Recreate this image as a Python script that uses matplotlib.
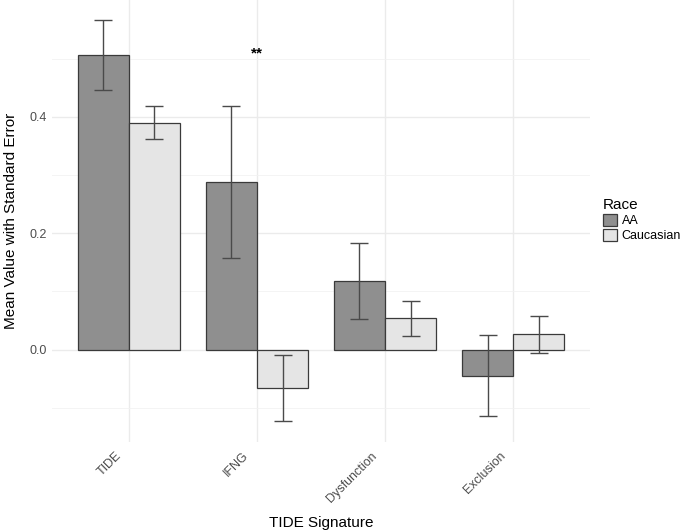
import matplotlib
matplotlib.use("Agg")
import matplotlib.pyplot as plt
import matplotlib.transforms as mtransforms
import numpy as np
from matplotlib.ticker import FixedLocator

categories = ["TIDE", "IFNG", "Dysfunction", "Exclusion"]
races = ["AA", "Caucasian"]
aa_mean = [0.506, 0.288, 0.118, -0.045]
aa_se = [0.060, 0.131, 0.065, 0.070]
cau_mean = [0.390, -0.066, 0.054, 0.026]
cau_se = [0.028, 0.057, 0.030, 0.032]
annot_text = "**"
annot_cat = 1
annot_y = 0.509

plt.rcParams['font.family'] = ['Liberation Sans', 'DejaVu Sans']

fig = plt.figure(figsize=(6.85, 5.32), dpi=100)
ax = fig.add_axes([52/685, 1-442/532, (590-52)/685, 442/532])

x = np.arange(len(categories))
w = 0.4
fills = ["#8f8f8f", "#e5e5e5"]
edge = "#3a3a3a"
for i, (m, s) in enumerate([(aa_mean, aa_se), (cau_mean, cau_se)]):
    pos = x + (i - 0.5) * w
    ax.bar(pos, m, width=w, color=fills[i], edgecolor=edge, linewidth=0.9,
           label=races[i], zorder=2)
    ax.errorbar(pos, m, yerr=s, fmt='none', ecolor="#4a4a4a", elinewidth=1.0,
                capsize=6.5, capthick=1.0, zorder=3)

ax.text(annot_cat, annot_y, annot_text, ha='center', va='center',
        fontsize=11, fontweight='bold', color='black')

ax.set_xlim(-0.6, 3.6)
ax.set_ylim(-0.159, 0.601)
ax.set_xticks(x)
ax.set_xticklabels([])
base = mtransforms.blended_transform_factory(ax.transData, ax.transAxes)
offset = mtransforms.ScaledTranslation(-14/100, -8/100, fig.dpi_scale_trans)
for xi, lab in zip(x, categories):
    ax.text(xi, 0, lab, transform=base + offset, rotation=45, ha='right',
            va='top', rotation_mode='anchor', color='#4d4d4d', fontsize=9,
            clip_on=False)
ax.yaxis.set_major_locator(FixedLocator([0.0, 0.2, 0.4]))
ax.yaxis.set_minor_locator(FixedLocator([-0.1, 0.1, 0.3, 0.5]))
ax.set_yticklabels(["0.0", "0.2", "0.4"], color='#4d4d4d', fontsize=9)
ax.tick_params(axis='both', which='both', length=0, pad=4)
ax.grid(True, which='major', color='#ebebeb', linewidth=1.0, zorder=0)
ax.grid(True, which='minor', axis='y', color='#f2f2f2', linewidth=0.6, zorder=0)
ax.set_axisbelow(True)
for sp in ax.spines.values():
    sp.set_visible(False)

ax.set_xlabel("TIDE Signature", fontsize=11)
ax.xaxis.set_label_coords(0.5, -(523 - 442) / 442)
ax.xaxis.label.set_va('center')
ax.set_ylabel("Mean Value with Standard Error", fontsize=11, labelpad=8)

leg = ax.legend(title="Race", loc='upper left', bbox_to_anchor=(598/685, 1-193/532),
                bbox_transform=fig.transFigure, frameon=False, fontsize=9,
                title_fontsize=11, handlelength=1.1, handleheight=1.1,
                handletextpad=0.4, labelspacing=0.15, borderaxespad=0)
leg._legend_box.align = "left"

fig.savefig("out.png", dpi=100)
